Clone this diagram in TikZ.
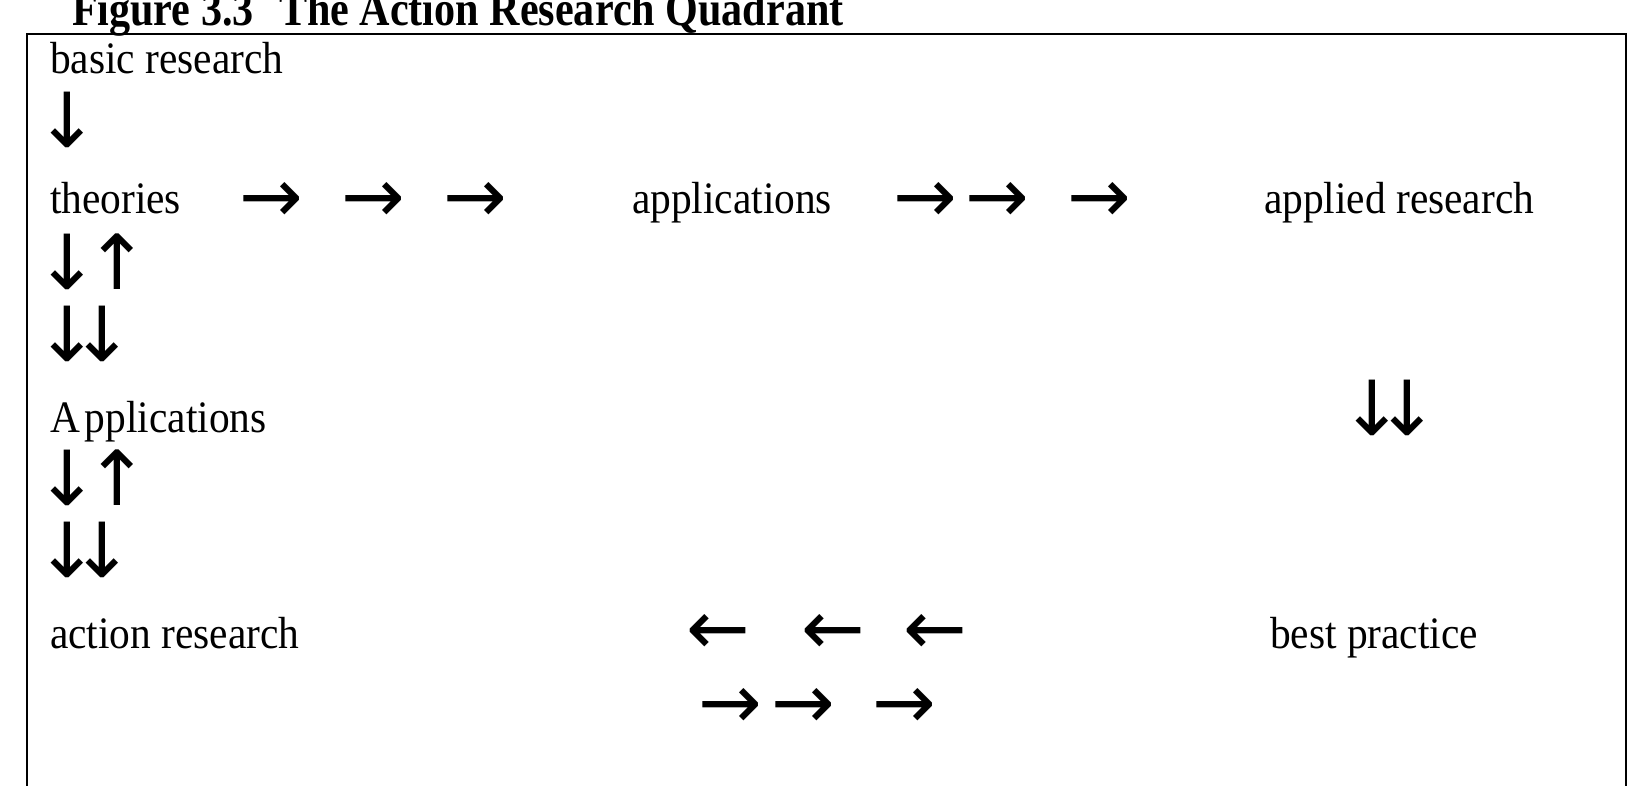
\documentclass[tikz,border=0pt]{standalone}
\usepackage{fontspec}
\setmainfont{Liberation Serif}[FakeStretch=0.92]
\newfontfamily\arrowfont{DejaVu Sans}
\newfontfamily\titlefont{Liberation Serif}[FakeStretch=0.86]

\begin{document}
\begin{tikzpicture}[x=1pt, y=-1pt,
                every node/.style={inner sep=0pt, outer sep=0pt},
                term/.style={anchor=base west,
                        font=\fontsize{45}{54}\selectfont},
                arr/.style={anchor=center,
                        font=\arrowfont\fontsize{76}{80}\selectfont}]

                \useasboundingbox (0,0) rectangle (1637,786);

                % frame, its lower edge lies below the page
                \draw[line width=2.6pt] (27,34) rectangle (1626,830);

                \node[anchor=base west, font=\titlefont\bfseries\fontsize{49}{56}\selectfont]
                        (title) at (72,26) {Figure 3.3\hspace{0.3em} The Action Research Quadrant};

                \node[term] (basic) at (50,74) {basic research};
                \node[arr] (d0) at (67,120) {↓};

                \node[term] (theo) at (50,214) {theories};
                \node[arr] (r1) at (271,202) {→};
                \node[arr] (r2) at (373,202) {→};
                \node[arr] (r3) at (475,202) {→};
                \node[term] (appl) at (632,214) {applications};
                \node[arr] (r4) at (925,202) {→};
                \node[arr] (r5) at (997,202) {→};
                \node[arr] (r6) at (1099,202) {→};
                \node[term] (appres) at (1264,214) {applied research};

                \node[arr] (d1) at (67,262) {↓};
                \node[arr] (u1) at (117,262) {↑};
                \node[arr] (d2) at (67,334) {↓};
                \node[arr] (d3) at (102,334) {↓};

                \node[term] (Appl) at (50,432) {A\kern5pt pplications};
                \node[arr] (d4) at (1372,408) {↓};
                \node[arr] (d5) at (1407,408) {↓};

                \node[arr] (d6) at (67,478) {↓};
                \node[arr] (u2) at (117,478) {↑};
                \node[arr] (d7) at (67,550) {↓};
                \node[arr] (d8) at (102,550) {↓};

                \node[term] (action) at (50,648) {action research};
                \node[arr] (l1) at (718,634) {←};
                \node[arr] (l2) at (833,634) {←};
                \node[arr] (l3) at (935,634) {←};
                \node[term] (best) at (1270,648) {best practice};

                \node[arr] (r7) at (730,708) {→};
                \node[arr] (r8) at (803,708) {→};
                \node[arr] (r9) at (904,708) {→};
\end{tikzpicture}
\end{document}
